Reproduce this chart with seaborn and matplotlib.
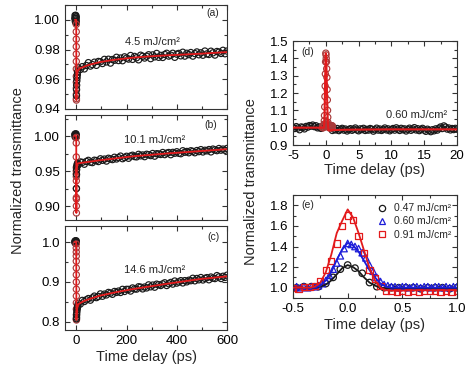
import numpy as np
import matplotlib
matplotlib.use("Agg")
import matplotlib.pyplot as plt
from matplotlib.ticker import MultipleLocator, FormatStrFormatter
from matplotlib.lines import Line2D
import seaborn as sns

# ------------------------------------------------------------------ data
# long delay grid (ps) used by panels (a)-(c)
delay_long = np.arange(8, 601, 8)

# (a) 4.5 mJ/cm2
trans_a = [0.9677, 0.9666, 0.9685, 0.9670, 0.9693, 0.9712, 0.9689, 0.9699, 0.9715, 0.9694,
           0.9720, 0.9718, 0.9706, 0.9734, 0.9717, 0.9735, 0.9709, 0.9733, 0.9728, 0.9748,
           0.9726, 0.9743, 0.9725, 0.9751, 0.9742, 0.9736, 0.9760, 0.9734, 0.9754, 0.9745,
           0.9731, 0.9762, 0.9755, 0.9743, 0.9755, 0.9765, 0.9739, 0.9764, 0.9751, 0.9774,
           0.9748, 0.9761, 0.9747, 0.9767, 0.9775, 0.9756, 0.9762, 0.9775, 0.9748, 0.9769,
           0.9774, 0.9758, 0.9782, 0.9756, 0.9775, 0.9766, 0.9780, 0.9756, 0.9773, 0.9784,
           0.9765, 0.9778, 0.9762, 0.9790, 0.9771, 0.9767, 0.9789, 0.9778, 0.9763, 0.9787,
           0.9783, 0.9774, 0.9795, 0.9772, 0.9790]
pre_t_a = [-6, -5, -4, -3, -2.5, -2, -1.5, -1, -0.5, -0.3]
pre_y_a = [1.001, 1.003, 0.999, 1.002, 1.000, 1.003, 0.998, 1.001, 1.002, 0.999]
drop_t_a = [-0.2, -0.15, -0.1, -0.05, 0.0, 0.05, 0.1, 0.15, 0.2, 0.25, 0.3, 0.35, 0.4]
drop_y_a = [0.997, 0.992, 0.987, 0.982, 0.977, 0.972, 0.967, 0.962, 0.958, 0.954, 0.950, 0.947, 0.946]
rec_t_a = [0.6, 0.9, 1.3, 2, 3, 4, 5]
rec_y_a = [0.949, 0.953, 0.956, 0.959, 0.961, 0.963, 0.965]
fit_t_a = [-6, -0.3, 0.4, 0.6, 1.3, 3, 5, 12, 29, 50, 95, 150, 228, 290, 360, 420, 493, 540, 600]
fit_y_a = [1.0, 1.0, 0.946, 0.950, 0.957, 0.962, 0.9655, 0.9672, 0.9683, 0.9697, 0.9716, 0.9731,
           0.9746, 0.9754, 0.9761, 0.9766, 0.9772, 0.9777, 0.9783]

# (b) 10.1 mJ/cm2
trans_b = [0.9590, 0.9629, 0.9623, 0.9597, 0.9636, 0.9652, 0.9626, 0.9620, 0.9654, 0.9649,
           0.9635, 0.9674, 0.9653, 0.9670, 0.9642, 0.9682, 0.9672, 0.9663, 0.9696, 0.9672,
           0.9691, 0.9713, 0.9676, 0.9693, 0.9710, 0.9682, 0.9714, 0.9725, 0.9706, 0.9702,
           0.9738, 0.9717, 0.9729, 0.9705, 0.9739, 0.9733, 0.9720, 0.9750, 0.9712, 0.9747,
           0.9743, 0.9736, 0.9764, 0.9734, 0.9755, 0.9764, 0.9733, 0.9766, 0.9754, 0.9775,
           0.9753, 0.9747, 0.9789, 0.9768, 0.9779, 0.9761, 0.9789, 0.9780, 0.9761, 0.9792,
           0.9777, 0.9805, 0.9772, 0.9796, 0.9788, 0.9806, 0.9773, 0.9813, 0.9801, 0.9791,
           0.9821, 0.9798, 0.9813, 0.9796, 0.9822]
pre_t_b = [-6, -5, -4, -3, -2.5, -2, -1.5, -1, -0.5, -0.3]
pre_y_b = [1.002, 0.999, 1.003, 1.000, 1.002, 0.998, 1.001, 1.003, 0.999, 1.000]
drop_t_b = [-0.2, -0.15, -0.1, -0.05, 0.0, 0.05, 0.1, 0.15, 0.2, 0.25, 0.3, 0.35, 0.4]
drop_y_b = [0.998, 0.990, 0.970, 0.955, 0.950, 0.946, 0.942, 0.936, 0.925, 0.912, 0.910, 0.900, 0.890]
rec_t_b = [0.6, 0.9, 1.3, 2, 3, 4, 5]
rec_y_b = [0.925, 0.945, 0.952, 0.956, 0.958, 0.960, 0.961]
fit_t_b = [-6, -0.3, 0.4, 0.6, 1.3, 3, 5, 8, 29, 95, 228, 360, 493, 600]
fit_y_b = [1.0, 1.0, 0.890, 0.930, 0.952, 0.958, 0.9600, 0.9610, 0.9621, 0.9654, 0.9711,
           0.9750, 0.9784, 0.9812]

# (c) 14.6 mJ/cm2
trans_c = [0.8463, 0.8450, 0.8540, 0.8512, 0.8555, 0.8586, 0.8546, 0.8604, 0.8647, 0.8610,
           0.8638, 0.8702, 0.8644, 0.8697, 0.8677, 0.8739, 0.8722, 0.8693, 0.8763, 0.8740,
           0.8773, 0.8738, 0.8816, 0.8764, 0.8816, 0.8815, 0.8774, 0.8851, 0.8827, 0.8823,
           0.8881, 0.8872, 0.8828, 0.8874, 0.8852, 0.8928, 0.8880, 0.8923, 0.8870, 0.8946,
           0.8932, 0.8912, 0.8952, 0.8980, 0.8912, 0.8957, 0.8989, 0.8948, 0.9024, 0.8973,
           0.9001, 0.9033, 0.8977, 0.9034, 0.9004, 0.9044, 0.9033, 0.9093, 0.9030, 0.9088,
           0.9055, 0.9111, 0.9051, 0.9091, 0.9109, 0.9056, 0.9124, 0.9096, 0.9086, 0.9160,
           0.9128, 0.9087, 0.9143, 0.9115, 0.9170]
pre_t_c = [-6, -5, -4, -3, -2.5, -2, -1.5, -1, -0.5, -0.3]
pre_y_c = [1.001, 0.998, 1.003, 1.000, 0.997, 1.002, 0.999, 1.001, 1.003, 0.998]
drop_t_c = [-0.25, -0.2, -0.15, -0.1, -0.05, 0.0, 0.05, 0.1, 0.15, 0.2, 0.25, 0.3, 0.35, 0.4, 0.45]
drop_y_c = [0.995, 0.985, 0.975, 0.965, 0.952, 0.935, 0.918, 0.900, 0.882, 0.865, 0.848,
            0.832, 0.818, 0.808, 0.805]
rec_t_c = [0.6, 0.9, 1.3, 2, 3, 4, 5, 6]
rec_y_c = [0.808, 0.812, 0.818, 0.824, 0.830, 0.835, 0.838, 0.841]
fit_t_c = [-6, -0.3, 0.45, 0.9, 2, 4, 8, 16, 29, 56, 96, 160, 228, 360, 493, 600]
fit_y_c = [1.0, 1.0, 0.805, 0.815, 0.826, 0.836, 0.8445, 0.8475, 0.852, 0.8584, 0.8662,
           0.8748, 0.8826, 0.8955, 0.9074, 0.914]

# (e) short-delay scans
t_047 = [-0.467, -0.400, -0.333, -0.267, -0.200, -0.133, -0.067, 0.000, 0.067, 0.133, 0.200,
         0.267, 0.333, 0.400, 0.467, 0.533, 0.600, 0.667, 0.733, 0.800, 0.867, 0.933, 1.000]
y_047 = [1.00, 1.01, 1.01, 1.01, 1.04, 1.10, 1.18, 1.22, 1.19, 1.14, 1.05,
         1.01, 1.00, 1.00, 1.00, 1.00, 1.00, 0.99, 1.00, 1.00, 1.00, 0.99, 1.00]
fit_t_047 = [-0.5, -0.3, -0.25, -0.2, -0.15, -0.1, -0.05, 0.0, 0.05, 0.1, 0.15, 0.2, 0.25, 0.3, 0.35, 1.0]
fit_y_047 = [1.0, 1.0, 1.01, 1.03, 1.07, 1.13, 1.19, 1.22, 1.20, 1.16, 1.10, 1.05, 1.02, 1.0, 0.995, 0.995]

t_060 = [-0.500, -0.467, -0.433, -0.400, -0.367, -0.333, -0.300, -0.267, -0.233, -0.200,
         -0.167, -0.133, -0.100, -0.067, -0.033, 0.000, 0.033, 0.067, 0.100, 0.133,
         0.167, 0.200, 0.233, 0.267, 0.300, 0.333, 0.367, 0.400, 0.433, 0.467,
         0.500, 0.533, 0.567, 0.600, 0.633, 0.667, 0.700, 0.733, 0.767, 0.800,
         0.833, 0.867, 0.900, 0.933, 0.967, 1.000]
y_060 = [1.00, 1.01, 1.00, 1.01, 1.00, 1.01, 1.01, 1.02, 1.04, 1.07,
         1.12, 1.18, 1.24, 1.31, 1.38, 1.43, 1.42, 1.40, 1.38, 1.34,
         1.29, 1.22, 1.16, 1.10, 1.06, 1.03, 1.02, 1.01, 1.01, 1.00,
         1.01, 1.01, 1.00, 1.01, 1.01, 1.00, 1.01, 1.01, 1.00, 1.01,
         1.01, 1.00, 1.01, 1.00, 1.01, 1.01]
fit_t_060 = [-0.5, -0.3, -0.25, -0.2, -0.15, -0.1, -0.05, 0.0, 0.05, 0.1, 0.15, 0.2, 0.25, 0.3, 0.35, 0.4, 1.0]
fit_y_060 = [1.0, 1.0, 1.02, 1.07, 1.15, 1.27, 1.37, 1.435, 1.41, 1.35, 1.26, 1.17, 1.10, 1.04, 1.01, 1.0, 1.0]

t_091 = [-0.50, -0.45, -0.40, -0.35, -0.30, -0.25, -0.20, -0.15, -0.10, -0.05, 0.00,
         0.05, 0.10, 0.15, 0.20, 0.25, 0.30, 0.35, 0.40, 0.45, 0.50, 0.55, 0.60, 0.65,
         0.70, 0.75, 0.80, 0.85, 0.90, 0.95, 1.00]
y_091 = [1.00, 0.99, 1.01, 1.01, 1.02, 1.06, 1.17, 1.26, 1.43, 1.60, 1.70,
         1.66, 1.50, 1.34, 1.17, 1.09, 1.02, 0.97, 0.965, 0.96, 0.965, 0.96, 0.965, 0.96,
         0.965, 0.97, 0.965, 0.96, 0.965, 0.96, 0.965]
fit_t_091 = [-0.5, -0.35, -0.3, -0.25, -0.2, -0.15, -0.1, -0.05, 0.0, 0.05, 0.1, 0.15, 0.2,
             0.25, 0.3, 0.35, 0.45, 0.6, 1.0]
fit_y_091 = [1.0, 1.0, 1.01, 1.05, 1.15, 1.32, 1.53, 1.65, 1.76, 1.68, 1.53, 1.36, 1.19,
             1.07, 1.0, 0.975, 0.97, 0.975, 0.975]

# (d) 0.60 mJ/cm2 over -5 .. 20 ps
d_pre_t = np.arange(-5.0, -0.49, 0.25)
d_pre_y = [1.002, 0.995, 1.006, 0.998, 0.988, 1.004, 1.001, 0.993, 1.007, 1.003,
           1.012, 1.009, 1.015, 1.006, 1.011, 0.999, 1.004, 0.996, 1.001]
d_post_t = np.arange(1.0, 20.01, 0.25)
d_post_y = ([0.984, 0.991, 0.987, 0.995] + [0.983, 0.990, 0.996, 0.986] +
            [0.992, 0.981, 0.989, 0.994] + [0.985, 0.991, 0.998, 0.987] +
            [0.982, 0.993, 0.989, 0.996] + [0.984, 0.990, 0.986, 0.995] +
            [0.991, 0.980, 0.988, 0.997] + [0.986, 0.992, 0.984, 0.990] +
            [0.998, 0.987, 0.993, 0.982] + [0.989, 0.995, 0.986, 0.999] +
            [0.991, 0.984, 0.996, 0.988] + [0.993, 0.981, 0.990, 0.997] +
            [0.985, 0.992, 1.000, 0.987] + [0.994, 0.983, 0.990, 0.996] +
            [0.986, 0.979, 0.991, 0.984] + [0.977, 0.988, 0.982, 0.993] +
            [0.986, 0.997, 1.004, 0.995] + [1.010, 1.003, 0.992, 0.998] +
            [0.987, 0.995, 0.989, 0.996] + [0.991])
fit_t_d = [-5, -0.3, -0.25, -0.2, -0.15, -0.1, -0.05, 0.0, 0.05, 0.1, 0.15, 0.2, 0.25, 0.3,
           0.4, 0.6, 1, 3, 6, 10, 15, 20]
fit_y_d = [1.0, 1.0, 1.02, 1.07, 1.15, 1.27, 1.37, 1.43, 1.41, 1.35, 1.26, 1.17, 1.10, 1.04,
           0.985, 0.984, 0.986, 0.988, 0.989, 0.990, 0.990, 0.990]

fluence_labels = ["0.47 mJ/cm²", "0.60 mJ/cm²", "0.91 mJ/cm²"]

# ------------------------------------------------------------------ style
sns.set_style("ticks")
plt.rcParams["font.family"] = ["Liberation Sans", "DejaVu Sans"]
plt.rcParams["axes.linewidth"] = 0.8
plt.rcParams["axes.edgecolor"] = "#333333"
plt.rcParams["axes.unicode_minus"] = False

RED = "#e31a1c"
DROP = "#a83a3a"
BLK = "#1a1a1a"
BLUE = "#1c1cd8"

fig = plt.figure(figsize=(4.74, 3.72), dpi=100)
W, H = 474.0, 372.0


def add_ax(left, top, right, bottom):
    return fig.add_axes([left / W, (H - bottom) / H, (right - left) / W, (bottom - top) / H])


def style(ax, xmaj, xmin, ymaj, ymin):
    ax.xaxis.set_major_locator(MultipleLocator(xmaj))
    ax.xaxis.set_minor_locator(MultipleLocator(xmin))
    ax.yaxis.set_major_locator(MultipleLocator(ymaj))
    ax.yaxis.set_minor_locator(MultipleLocator(ymin))
    ax.tick_params(which="both", direction="in", top=True, right=True,
                   width=0.8, colors="#333333", labelcolor="black")
    ax.tick_params(which="major", length=3.5, labelsize=9.5, pad=3.5)
    ax.tick_params(which="minor", length=2)
    for s in ax.spines.values():
        s.set_visible(True)


def scat(ax, x, y, color, marker="o", s=20, lw=0.85, label=None):
    sns.scatterplot(x=np.asarray(x, float), y=np.asarray(y, float), ax=ax, marker=marker, s=s,
                    facecolor="none", edgecolor=color, linewidth=lw, label=label, legend=False,
                    zorder=2)


def line(ax, x, y, color, lw=1.3):
    sns.lineplot(x=np.asarray(x, float), y=np.asarray(y, float), ax=ax, color=color,
                 linewidth=lw, estimator=None, sort=False, errorbar=None, zorder=3)


long_panels = [
    ((5, 109), trans_a, pre_t_a, pre_y_a, drop_t_a, drop_y_a, rec_t_a, rec_y_a, fit_t_a, fit_y_a,
     (0.94, 1.01), 0.02, 0.01, "%.2f", "(a)", (0.914, 0.923), "4.5 mJ/cm²", (0.537, 0.644)),
    ((115, 220), trans_b, pre_t_b, pre_y_b, drop_t_b, drop_y_b, rec_t_b, rec_y_b, fit_t_b, fit_y_b,
     (0.88, 1.03), 0.05, 0.025, "%.2f", "(b)", (0.9, 0.905), "10.1 mJ/cm²", (0.556, 0.762)),
    ((226, 330), trans_c, pre_t_c, pre_y_c, drop_t_c, drop_y_c, rec_t_c, rec_y_c, fit_t_c, fit_y_c,
     (0.78, 1.04), 0.1, 0.05, "%.1f", "(c)", (0.914, 0.894), "14.6 mJ/cm²", (0.556, 0.577)),
]

for i, (tb, tr, pt, py, dt, dy, rt, ry, ft, fy, ylim, ymaj, ymin, fmt, tag, tagpos, flu, flupos) in enumerate(long_panels):
    ax = add_ax(65, tb[0], 227, tb[1])
    scat(ax, delay_long, tr, BLK)
    scat(ax, pt, py, BLK)
    scat(ax, dt, dy, DROP)
    scat(ax, rt, ry, BLK)
    line(ax, ft, fy, RED)
    ax.set_xlim(-45, 600)
    ax.set_ylim(*ylim)
    style(ax, 200, 100, ymaj, ymin)
    ax.yaxis.set_major_formatter(FormatStrFormatter(fmt))
    ax.set_ylabel("")
    if i < 2:
        ax.tick_params(labelbottom=False)
        ax.set_xlabel("")
    else:
        ax.set_xlabel("Time delay (ps)", fontsize=10.5, labelpad=2)
    ax.text(*tagpos, tag, transform=ax.transAxes, fontsize=7.5, ha="center", va="center")
    ax.text(*flupos, flu, transform=ax.transAxes, fontsize=8, ha="center", va="center")

# (d)
axd = add_ax(293, 41, 457, 145)
scat(axd, d_pre_t, d_pre_y, BLK)
scat(axd, d_post_t, d_post_y, BLK)
scat(axd, t_060, y_060, DROP)
line(axd, fit_t_d, fit_y_d, RED, lw=1.5)
axd.set_xlim(-5, 20)
axd.set_ylim(0.9, 1.5)
style(axd, 5, 2.5, 0.1, 0.05)
axd.yaxis.set_major_formatter(FormatStrFormatter("%.1f"))
axd.set_ylabel("")
axd.set_xlabel("Time delay (ps)", fontsize=10.5, labelpad=1)
axd.text(0.091, 0.894, "(d)", transform=axd.transAxes, fontsize=7.5, ha="center", va="center")
axd.text(0.756, 0.288, "0.60 mJ/cm²", transform=axd.transAxes, fontsize=8, ha="center", va="center")

# (e)
axe = add_ax(293, 195, 457, 298)
scat(axe, t_047, y_047, BLK, "o", s=22, lw=0.9)
scat(axe, t_060, y_060, BLUE, "^", s=22, lw=0.9)
scat(axe, t_091, y_091, RED, "s", s=20, lw=0.9)
line(axe, fit_t_047, fit_y_047, BLK, lw=1.3)
line(axe, fit_t_060, fit_y_060, BLUE, lw=1.3)
line(axe, fit_t_091, fit_y_091, RED, lw=1.3)
axe.set_xlim(-0.5, 1.0)
axe.set_ylim(0.9, 1.9)
style(axe, 0.5, 0.25, 0.2, 0.1)
axe.xaxis.set_major_formatter(FormatStrFormatter("%.1f"))
axe.yaxis.set_major_formatter(FormatStrFormatter("%.1f"))
axe.set_ylabel("")
axe.set_xlabel("Time delay (ps)", fontsize=10.5, labelpad=2)
axe.text(0.091, 0.903, "(e)", transform=axe.transAxes, fontsize=7.5, ha="center", va="center")
handles = [Line2D([], [], ls="none", marker=m, mfc="none", mec=c, mew=0.9, ms=4.5)
           for m, c in zip(["o", "^", "s"], [BLK, BLUE, RED])]
axe.legend(handles, fluence_labels, loc="upper right", frameon=False, fontsize=7.5,
           handletextpad=0.5, handlelength=1.2, labelspacing=0.3, borderaxespad=0.2,
           bbox_to_anchor=(1.0, 0.98))

fig.text(18 / W, (H - 171) / H, "Normalized transmittance", rotation=90, ha="center",
         va="center", fontsize=10.5)
fig.text(251 / W, (H - 182) / H, "Normalized transmittance", rotation=90, ha="center",
         va="center", fontsize=10.5)

fig.savefig("out.png", dpi=100)
